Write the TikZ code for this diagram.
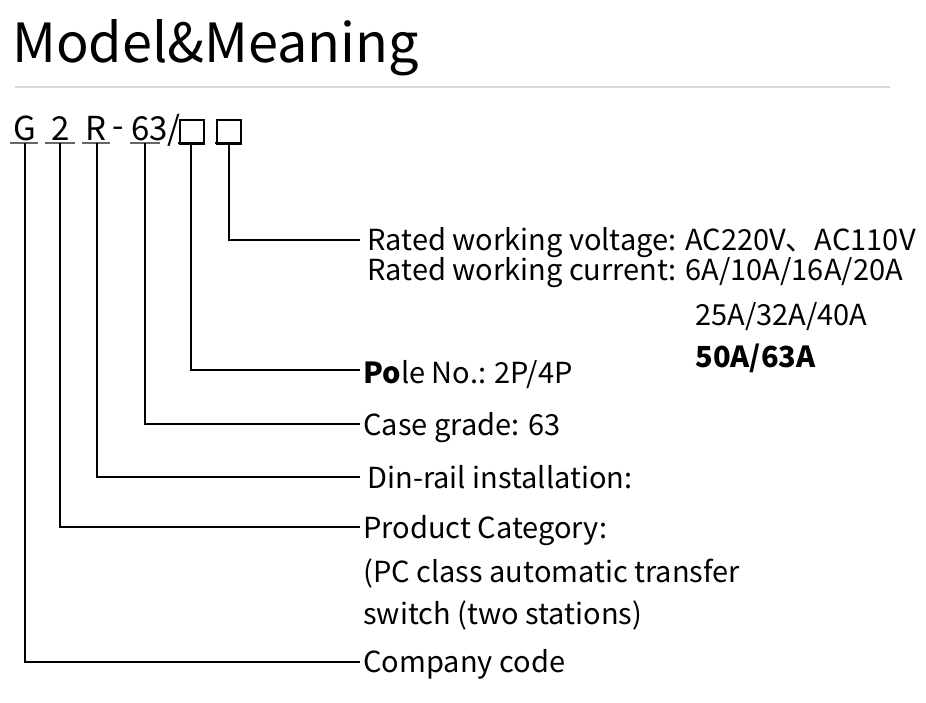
\documentclass[tikz,border=0pt]{standalone}
\usepackage{fontspec}
\setmainfont{Noto Sans CJK SC}
\tikzset{%
    lbl/.style={anchor=base west, inner sep=0pt, font=\fontsize{14.5}{17}\selectfont},
    code/.style={anchor=base, inner sep=0pt, font=\fontsize{16.5}{19}\selectfont},
    pri/.style={line width=1.2pt},
    und/.style={line width=1.2pt, gray!80!black},
}
\begin{document}
\begin{tikzpicture}[x=0.5pt, y=-0.5pt]
    \useasboundingbox (0,0) rectangle (926,702);
    \node [anchor=base west, inner sep=0pt, font=\fontsize{27}{32}\selectfont] (title) at (12,62) {Model\&Meaning};
    \draw [line width=0.8pt, gray!30] (15,87) -- (890,87);
    % code letters
    \node [code] (g) at (25,140) {G};
    \node [code] (two) at (61,140) {2};
    \node [code] (r) at (96,140) {R};
    \node [code] (dash) at (118,137) {-};
    \node [code] (six) at (156,140) {63/};
    \node [code, draw, line width=0.9pt, minimum size=12pt] (bxa) at (192,132) {};
    \node [code, draw, line width=0.9pt, minimum size=12pt] (bxb) at (229,132) {};
    % underlines
    \draw [und] (10,143) -- (38,143) (45,143) -- (75,143) (82,143) -- (110,143) (130,143) -- (160,143);
    \draw [pri] (178,143) -- (205,143) (215,143) -- (242,143);
    \coordinate (ug) at (25,143);
    \coordinate (utwo) at (60,143);
    \coordinate (ur) at (97,143);
    \coordinate (usix) at (145,143);
    \coordinate (ubxa) at (191,143);
    \coordinate (ubxb) at (229,143);
    % labels
    \node [lbl] (volt) at (367,250) {Rated working voltage: AC220V、AC110V};
    \node [lbl] (curr) at (367,280) {Rated working current: 6A/10A/16A/20A};
    \node [lbl] (curb) at (695,325) {25A/32A/40A};
    \node [lbl, font=\fontsize{14.5}{17}\selectfont\bfseries] (curc) at (695,367) {50A/63A};
    \node [lbl] (pole) at (363,383) {\textbf{Po}le No.: 2P/4P};
    \node [lbl] (case) at (363,435) {Case grade: 63};
    \node [lbl] (din) at (367,488) {Din-rail installation:};
    \node [lbl] (prod) at (363,538) {Product Category:};
    \node [lbl] (pca) at (363,582) {(PC class automatic transfer};
    \node [lbl] (pcb) at (363,624) {switch (two stations)};
    \node [lbl] (comp) at (363,672) {Company code};
    % connectors
    \coordinate (evolt) at (360,240);
    \coordinate (epole) at (360,370);
    \coordinate (ecase) at (360,424);
    \coordinate (edin) at (360,477);
    \coordinate (eprod) at (360,527);
    \coordinate (ecomp) at (360,662);
    \draw [pri] (ubxb) |- (evolt);
    \draw [pri] (ubxa) |- (epole);
    \draw [pri] (usix) |- (ecase);
    \draw [pri] (ur) |- (edin);
    \draw [pri] (utwo) |- (eprod);
    \draw [pri] (ug) |- (ecomp);
\end{tikzpicture}
\end{document}
